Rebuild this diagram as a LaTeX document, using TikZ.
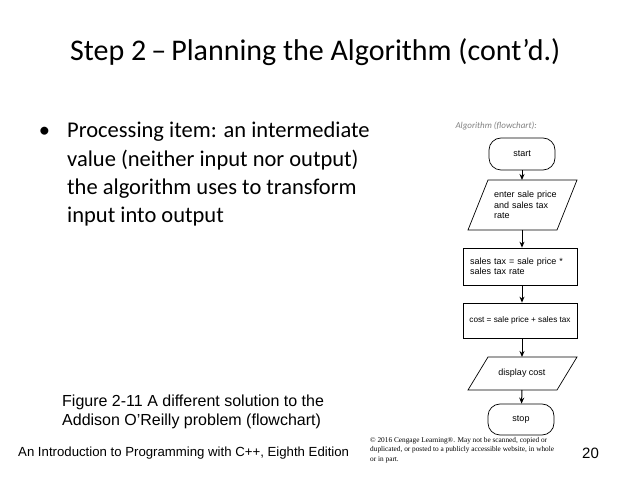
\documentclass[tikz,border=0pt]{standalone}
\usepackage{fontspec}
\setmainfont{Carlito}
\newfontfamily\arial{Liberation Sans}
\newfontfamily\tnrfont{Liberation Serif}
\usetikzlibrary{arrows.meta}
\begin{document}
\begin{tikzpicture}[x=1pt,y=-1pt,
  fc/.style={draw,line width=0.7pt,font=\arial\fontsize{9}{10.5}\selectfont,align=left},
  term/.style={fc,rounded corners=12pt,minimum width=66pt,minimum height=32pt,align=center},
  box/.style={fc,minimum width=114pt,text width=100pt},
  arr/.style={-{Stealth[length=6pt,width=5pt]},line width=1pt}]
\useasboundingbox (0,0) rectangle (638,478);
\node[anchor=west,font=\fontsize{30}{34}\selectfont,inner sep=0pt] (title) at (70,52) {Step 2\,--\,Planning the Algorithm (cont’d.)};
\node[anchor=north west,font=\fontsize{22.5}{28.3}\selectfont,align=left,inner sep=0pt] (bul) at (67,122)
 {\makebox[0pt][r]{\textbullet\hspace{17pt}}Processing item: an intermediate\\value (neither input nor output)\\the algorithm uses to transform\\input into output};
\node[anchor=west,font=\itshape\fontsize{9}{10}\selectfont,text=gray] (alg) at (452,126) {Algorithm (flowchart):};
\node[term] (start) at (522,154) {start};
\node[fc,draw=none,text width=64pt,minimum height=50pt] (in) at (526,205) {enter sale price\\and sales tax\\rate};
\draw[line width=0.7pt] (488,180)--(577,180)--(557,230)--(468,230)--cycle;
\node[box,minimum height=37pt] (p1) at (520,266.5) {sales tax = sale price *\\sales tax rate};
\node[fc,minimum width=114pt,minimum height=35pt,align=center,font=\arial\fontsize{8.2}{10}\selectfont] (p2) at (520,320.5) {cost = sale price + sales tax};
\node[fc,draw=none,minimum height=33pt,align=center] (out) at (522,373.5) {display cost};
\draw[line width=0.7pt] (488,357)--(577,357)--(557,390)--(468,390)--cycle;
\node[term,minimum height=31pt] (stop) at (521,419.5) {stop};
\draw[arr] (start) -- (522,180);
\draw[arr] (522,230) -- (p1.north -| 522,0);
\draw[arr] (p1.south -| 522,0) -- (p2.north -| 522,0);
\draw[arr] (p2.south -| 522,0) -- (522,357);
\draw[arr] (522,390) -- (stop);
\node[anchor=north west,font=\arial\fontsize{16}{19}\selectfont,align=left,inner sep=0pt] (cap) at (62,395)
 {Figure 2-11 A different solution to the\\Addison O’Reilly problem (flowchart)};
\node[anchor=west,font=\arial\fontsize{13.2}{15}\selectfont,inner sep=0pt] (foot) at (18,453) {An Introduction to Programming with C++, Eighth Edition};
\node[anchor=north west,font=\tnrfont\fontsize{7.3}{9.5}\selectfont,align=left,inner sep=0pt] (copy) at (370,437)
 {© 2016 Cengage Learning®. May not be scanned, copied or\\duplicated, or posted to a publicly accessible website, in whole\\or in part.};
\node[anchor=west,font=\arial\fontsize{15}{16}\selectfont,inner sep=0pt] (pg) at (582,453) {20};
\end{tikzpicture}
\end{document}
